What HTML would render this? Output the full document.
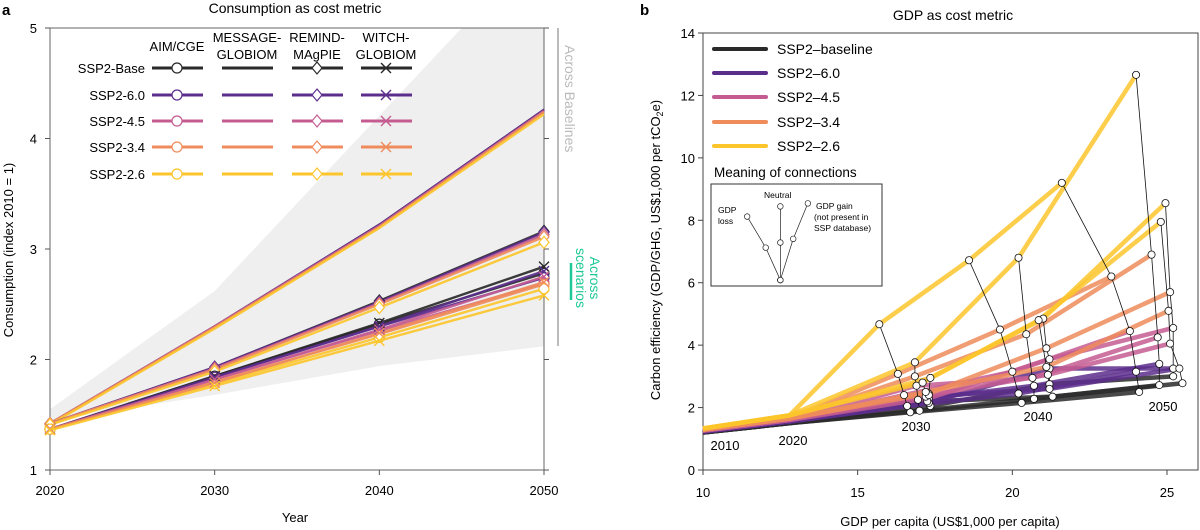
<!DOCTYPE html>
<html><head><meta charset="utf-8"><style>
body{margin:0;background:#fff;}
svg{display:block;font-family:"Liberation Sans",sans-serif;}
</style></head><body>
<svg id="c" width="1200" height="530" viewBox="0 0 1200 530" xmlns="http://www.w3.org/2000/svg"></svg>
<script>
// ---------- Panel a data ----------
const yearsA = [2020, 2030, 2040, 2050];
const scenarios = ["SSP2-Base", "SSP2-6.0", "SSP2-4.5", "SSP2-3.4", "SSP2-2.6"];
const modelsA = ["AIM/CGE", "MESSAGE-GLOBIOM", "REMIND-MAgPIE", "WITCH-GLOBIOM"];
const aimVals = [[1.37,1.85,2.32,2.78],[1.37,1.84,2.30,2.74],[1.37,1.82,2.26,2.69],[1.37,1.80,2.23,2.68],[1.37,1.78,2.20,2.64]];
const messageVals = [[1.42,2.30,3.22,4.26],[1.42,2.30,3.22,4.26],[1.42,2.30,3.21,4.25],[1.42,2.29,3.20,4.24],[1.41,2.28,3.19,4.22]];
const remindVals = [[1.42,1.93,2.53,3.16],[1.42,1.93,2.52,3.15],[1.42,1.92,2.51,3.13],[1.42,1.91,2.50,3.11],[1.41,1.89,2.47,3.06]];
const witchVals = [[1.37,1.85,2.33,2.84],[1.37,1.84,2.30,2.80],[1.37,1.82,2.27,2.75],[1.37,1.79,2.24,2.70],[1.36,1.76,2.17,2.58]];
const bandUpper = [1.55, 2.62, 4.1, 5.0];
const bandLower = [1.45, 1.68, 1.94, 2.12];
const yTicksA = [1, 2, 3, 4, 5];

// ---------- Panel b data ----------
const xTicksB = [10, 15, 20, 25];
const yTicksB = [0, 2, 4, 6, 8, 10, 12, 14];
const yearsB = [2010, 2020, 2030, 2040, 2050];
const gdp2010 = [10, 10, 10, 10, 10];
const eff2010 = [1.2, 1.23, 1.26, 1.29, 1.33];
const gdp2020 = [12.8, 12.8, 12.8, 12.8, 12.8];
const eff2020 = [1.5, 1.55, 1.6, 1.65, 1.75];
const modelAGdp = [[16.7,20.3,24.1],[16.6,20.2,24.0],[16.5,20.0,23.8],[16.3,19.6,23.2],[15.7,18.6,21.6]];
const modelAEff = [[1.85,2.15,2.5],[2.05,2.45,3.15],[2.4,3.15,4.45],[3.08,4.5,6.2],[4.67,6.72,9.2]];
const modelBGdp = [[17.0,20.7,24.75],[16.95,20.7,24.75],[16.9,20.65,24.7],[16.85,20.45,24.5],[16.85,20.2,24.0]];
const modelBEff = [[1.9,2.28,2.72],[2.25,2.7,3.4],[2.7,2.95,4.25],[3.0,4.35,6.9],[3.45,6.8,12.66]];
const modelCGdp = [[17.35,21.2,25.2],[17.3,21.2,25.2],[17.3,21.2,25.2],[17.3,21.1,25.1],[17.35,21.0,24.95]];
const modelCEff = [[2.05,2.75,3.0],[2.15,3.25,3.25],[2.3,3.55,4.55],[2.45,3.9,5.7],[2.95,4.85,8.55]];
const modelDGdp = [[17.25,21.3,25.5],[17.2,21.2,25.4],[17.3,21.15,25.1],[17.2,21.1,25.05],[17.1,20.85,24.8]];
const modelDEff = [[2.2,2.35,2.78],[2.35,2.6,3.25],[2.4,3.05,4.05],[2.5,3.3,5.1],[2.8,4.8,7.95]];

const colors = ["#2a2a2a", "#5c2e8c", "#c45c92", "#ef8c5c", "#fcc52c"];
const NS = "http://www.w3.org/2000/svg";
const svg = document.getElementById("c");
function el(tag, attrs, parent, text) {
  const e = document.createElementNS(NS, tag);
  for (const k in attrs) e.setAttribute(k, attrs[k]);
  if (text !== undefined) e.textContent = text;
  (parent || svg).appendChild(e);
  return e;
}
function grp(name) {
  const g = el("g", {});
  
  
  return g;
}

// ===== Panel a =====
const ax = { l: 50, r: 544, t: 28, b: 470 };
const xA = y => ax.l + (y - 2020) / 30 * (ax.r - ax.l);
const yA = v => ax.b - (v - 1) / 4 * (ax.b - ax.t);

const pa = grp("panel-a");
let t = el("text", { x: 2, y: 15, "font-size": 15, "font-weight": "bold" }, pa, "a");
 
t = el("text", { x: 295, y: 13, "font-size": 14, "text-anchor": "middle" }, pa, "Consumption as cost metric");
 

const bandPts = [[xA(2020), yA(bandUpper[0])], [xA(2030), yA(bandUpper[1])], [xA(2045), yA(bandUpper[3])], [xA(2050), yA(bandUpper[3])]]
  .concat(yearsA.map((y, i) => [xA(y), yA(bandLower[i])]).reverse());
let band = el("polygon", { points: bandPts.map(p => p.join(",")).join(" "), fill: "#efefef" }, pa);
 

let box = el("rect", { x: ax.l, y: ax.t, width: ax.r - ax.l, height: ax.b - ax.t, fill: "none", stroke: "#666", "stroke-width": 1 }, pa);
 
yearsA.forEach(y => {
  el("line", { x1: xA(y), x2: xA(y), y1: ax.b, y2: ax.b + 5, stroke: "#555" }, pa);
  const tl = el("text", { x: xA(y), y: 495, "font-size": 13, "text-anchor": "middle" }, pa, y);
   
});
yTicksA.forEach(v => {
  el("line", { x1: ax.l - 5, x2: ax.l, y1: yA(v), y2: yA(v), stroke: "#555" }, pa);
  el("line", { x1: ax.r, x2: ax.r + 5, y1: yA(v), y2: yA(v), stroke: "#555" }, pa);
  const tl = el("text", { x: 37, y: yA(v) + 5, "font-size": 13, "text-anchor": "end" }, pa, v);
   
});
t = el("text", { x: 295, y: 522, "font-size": 13, "text-anchor": "middle" }, pa, "Year");
 
t = el("text", { x: 0, y: 0, "font-size": 13, "text-anchor": "middle", transform: "translate(13,250) rotate(-90)" }, pa, "Consumption (index 2010 = 1)");
 

function marker(parent, kind, x, y, col, s) {
  if (kind === "o") el("circle", { cx: x, cy: y, r: s, fill: "#fff", stroke: col, "stroke-width": 1.2 }, parent);
  else if (kind === "d") el("polygon", { points: `${x},${y-s-1} ${x+s},${y} ${x},${y+s+1} ${x-s},${y}`, fill: "#fff", stroke: col, "stroke-width": 1.2 }, parent);
  else if (kind === "x") el("path", { d: `M${x-s},${y-s}L${x+s},${y+s}M${x-s},${y+s}L${x+s},${y-s}`, stroke: col, "stroke-width": 1.4, fill: "none" }, parent);
}
const aData = [messageVals, remindVals, aimVals, witchVals];
const aKinds = ["", "d", "o", "x"];
const aNames = ["message", "remind", "aim", "witch"];
aData.forEach((md, mi) => {
  const g = grp("series-" + aNames[mi]);
  md.forEach((vals, si) => {
    const p = el("polyline", { points: vals.map((v, i) => xA(yearsA[i]) + "," + yA(v)).join(" "), fill: "none", stroke: colors[si], "stroke-width": 2.4, "stroke-opacity": 0.92 }, g);
     
  });
  if (aKinds[mi]) md.forEach((vals, si) => vals.forEach((v, i) => marker(g, aKinds[mi], xA(yearsA[i]), yA(v), colors[si], 5)));
});

const lg = grp("panel-a-legend");
const colX = [152, 222, 292, 361];
const rowY = [68, 95, 121, 147, 174];
const kindsL = ["o", "", "d", "x"];
[["AIM/CGE"], ["MESSAGE-", "GLOBIOM"], ["REMIND-", "MAgPIE"], ["WITCH-", "GLOBIOM"]].forEach((h, i) => {
  h.forEach((s, j) => {
    const y = h.length === 1 ? 46 : 37 + j * 17;
    el("text", { x: colX[i] + 25, y: y + 5, "font-size": 13, "text-anchor": "middle" }, lg, s);
  });
});
scenarios.forEach((s, si) => {
  el("text", { x: 145, y: rowY[si] + 5, "font-size": 13, "text-anchor": "end" }, lg, s);
  colX.forEach((x, i) => {
    el("line", { x1: x, x2: x + 51, y1: rowY[si], y2: rowY[si], stroke: colors[si], "stroke-width": 3 }, lg);
    if (kindsL[i]) marker(lg, kindsL[i], x + 25, rowY[si], colors[si], 5);
  });
});

const ann = grp("panel-a-annotations");
el("line", { x1: 558, x2: 558, y1: 28, y2: 346, stroke: "#bbb", "stroke-width": 2 }, ann);
el("text", { x: 0, y: 0, "font-size": 14, fill: "#bbb", transform: "translate(565,45) rotate(90)" }, ann, "Across Baselines");
el("line", { x1: 571, x2: 571, y1: 263, y2: 300, stroke: "#1ec997", "stroke-width": 2.5 }, ann);
el("text", { x: 0, y: 0, "font-size": 14, fill: "#1ec997", "text-anchor": "middle", transform: "translate(590,278) rotate(90)" }, ann, "Across");
el("text", { x: 0, y: 0, "font-size": 14, fill: "#1ec997", "text-anchor": "middle", transform: "translate(576,278) rotate(90)" }, ann, "scenarios");

// ===== Panel b =====
const bx = { l: 703, r: 1198, t: 33, b: 470 };
const xB = v => 703 + (v - 10) / 15 * (1167 - 703);
const yB = v => bx.b - v / 14 * (bx.b - bx.t);
const pb = grp("panel-b");
t = el("text", { x: 640, y: 15, "font-size": 15, "font-weight": "bold" }, pb, "b");
 
t = el("text", { x: 953, y: 20, "font-size": 14, "text-anchor": "middle" }, pb, "GDP as cost metric");
 
box = el("rect", { x: bx.l, y: bx.t, width: bx.r - bx.l, height: bx.b - bx.t, fill: "none", stroke: "#444", "stroke-width": 1 }, pb);
 
xTicksB.forEach(v => {
  el("line", { x1: xB(v), x2: xB(v), y1: bx.b, y2: bx.b + 5, stroke: "#444" }, pb);
  const tl = el("text", { x: xB(v), y: 497, "font-size": 13, "text-anchor": "middle" }, pb, v);
   
});
yTicksB.forEach(v => {
  el("line", { x1: bx.l - 5, x2: bx.l, y1: yB(v), y2: yB(v), stroke: "#444" }, pb);
  const tl = el("text", { x: 695, y: yB(v) + 5, "font-size": 13, "text-anchor": "end" }, pb, v);
   
});
t = el("text", { x: 950, y: 526, "font-size": 13, "text-anchor": "middle" }, pb, "GDP per capita (US$1,000 per capita)");
 
t = el("text", { x: 0, y: 0, "font-size": 13, "text-anchor": "middle", transform: "translate(660,250) rotate(-90)" }, pb);
 
t.textContent = "Carbon efficiency (GDP/GHG, US$1,000 per tCO";
el("tspan", { "font-size": 9, dy: 3 }, t, "2");
el("tspan", { dy: -3 }, t, "e)");

const modelsB = [[modelAGdp, modelAEff], [modelBGdp, modelBEff], [modelCGdp, modelCEff], [modelDGdp, modelDEff]];
const linesG = grp("panel-b-scenario-lines");
for (let si = 0; si < 5; si++) {
  modelsB.forEach((m, mi) => {
    const pts = [[xB(gdp2010[si]), yB(eff2010[si])], [xB(gdp2020[si]), yB(eff2020[si])]]
      .concat(m[0][si].map((g, k) => [xB(g), yB(m[1][si][k])]));
    const p = el("polyline", { points: pts.map(q => q.join(",")).join(" "), fill: "none", stroke: colors[si], "stroke-width": 4.5, "stroke-opacity": 0.85, "stroke-linejoin": "round" }, linesG);
     
  });
}
const conG = grp("panel-b-connections");
modelsB.forEach(m => {
  for (let k = 0; k < 3; k++) {
    const pts = m[0].map((g, si) => xB(g[k]) + "," + yB(m[1][si][k]));
    el("polyline", { points: pts.join(" "), fill: "none", stroke: "#111", "stroke-width": 0.8 }, conG);
  }
});
modelsB.forEach(m => {
  for (let k = 0; k < 3; k++) m[0].forEach((g, si) => {
    const c = el("circle", { cx: xB(g[k]), cy: yB(m[1][si][k]), r: 3.6, fill: "#fff", stroke: "#111", "stroke-width": 0.8 }, conG);
     
  });
});
const yl = grp("year-labels");
[["2010", 725, 450], ["2020", 793, 445], ["2030", 916, 431], ["2040", 1038, 421], ["2050", 1163, 411]].forEach(a =>
  el("text", { x: a[1], y: a[2], "font-size": 13, "text-anchor": "middle" }, yl, a[0]));

const lb = grp("panel-b-legend");
const legNames = ["SSP2\u2013baseline", "SSP2\u20136.0", "SSP2\u20134.5", "SSP2\u20133.4", "SSP2\u20132.6"];
const lbY = [49, 73, 97, 122, 146];
legNames.forEach((n, i) => {
  el("line", { x1: 714, x2: 766, y1: lbY[i], y2: lbY[i], stroke: colors[i], "stroke-width": 4, "stroke-linecap": "round" }, lb);
  el("text", { x: 777, y: lbY[i] + 5, "font-size": 14 }, lb, n);
});
el("text", { x: 714, y: 177, "font-size": 13.5 }, lb, "Meaning of connections");
const ins = grp("connections-inset");
el("rect", { x: 711, y: 184, width: 171, height: 102, fill: "#fff", stroke: "#333", "stroke-width": 1 }, ins);
const ip = (zx, zy) => [640 + zx / 2.8, zy / 2.96];
[[[300,641],[352,733],[393,829]], [[393,611],[393,718],[393,829]], [[470,602],[429,707],[393,829]]].forEach(path => {
  const pts = path.map(p => ip(p[0], p[1]));
  el("polyline", { points: pts.map(q => q.join(",")).join(" "), fill: "none", stroke: "#222", "stroke-width": 0.7 }, ins);
  pts.forEach(q => el("circle", { cx: q[0], cy: q[1], r: 2.8, fill: "#fff", stroke: "#222", "stroke-width": 0.7 }, ins));
});
[["GDP", 718, 213], ["loss", 718, 224], ["Neutral", 764, 198], ["GDP gain", 816, 209], ["(not present in", 814, 220], ["SSP database)", 814, 231]].forEach(a =>
  el("text", { x: a[1], y: a[2], "font-size": 8.5 }, ins, a[0]));
</script>
</body></html>
